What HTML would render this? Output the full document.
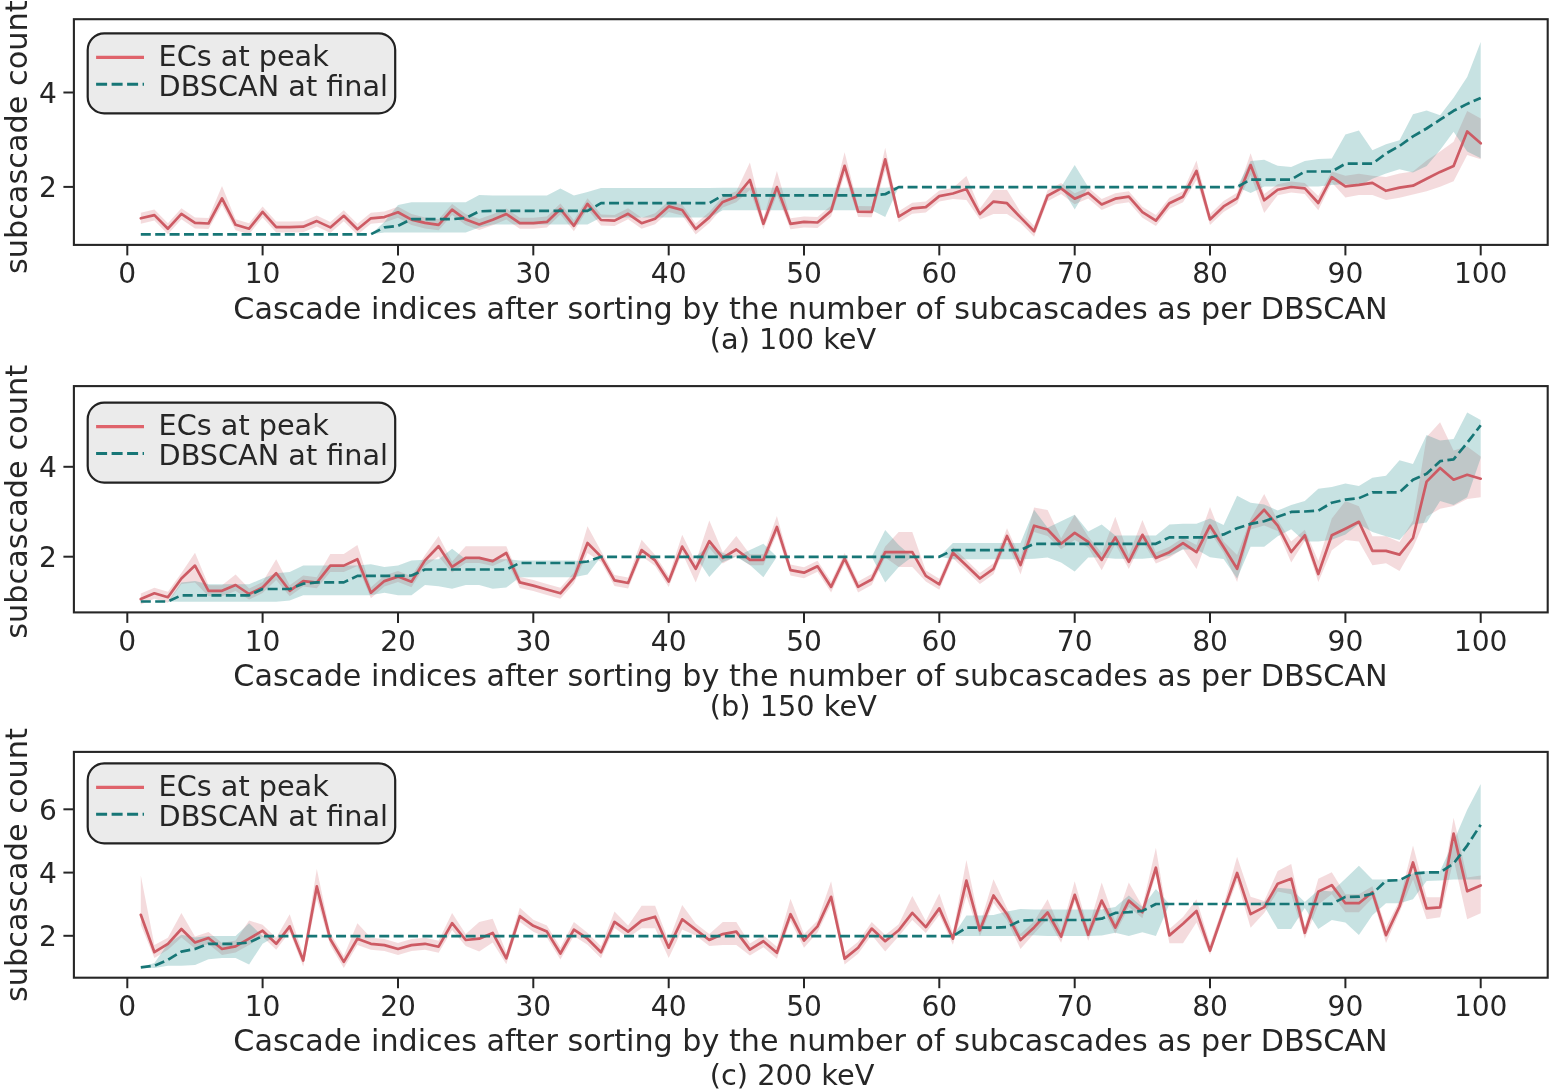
<!DOCTYPE html><html><head><meta charset="utf-8"><style>html,body{margin:0;padding:0;background:#fff;}svg{display:block;}text{font-family:'DejaVu Sans', 'Liberation Sans', sans-serif;fill:#262626;}</style></head><body>
<svg width="1551" height="1091" viewBox="0 0 1551 1091">
<rect x="0" y="0" width="1551" height="1091" fill="#fff"/>
<clipPath id="clip0"><rect x="73.9" y="19.2" width="1473.8" height="225.70000000000002"/></clipPath>
<g clip-path="url(#clip0)">
<polygon points="140.8,212.8 154.4,209.6 167.9,223.2 181.4,208.3 195.0,217.4 208.5,218.0 222.0,186.0 235.6,219.3 249.1,223.2 262.6,206.4 276.2,221.6 289.7,221.6 303.2,221.2 316.8,215.6 330.3,221.9 343.8,210.3 357.4,223.8 370.9,212.8 384.4,211.6 398.0,206.8 411.5,214.1 425.0,217.4 438.6,219.3 452.1,204.1 465.7,214.1 479.2,219.0 492.7,214.3 506.3,208.5 519.8,217.7 533.3,217.7 546.9,216.4 560.4,203.5 573.9,220.3 587.5,198.3 601.0,214.5 614.5,215.1 628.1,208.3 641.6,217.7 655.1,213.2 668.7,200.9 682.2,204.5 695.7,223.5 709.3,211.9 722.8,196.4 736.3,191.2 749.9,162.6 763.4,218.3 776.9,171.0 790.5,218.3 804.0,216.4 817.5,217.0 831.1,205.4 844.6,152.3 858.1,206.1 871.7,206.3 885.2,147.7 898.7,211.2 912.3,202.8 925.8,201.6 939.3,190.6 952.9,188.0 966.4,176.0 979.9,208.6 993.5,190.0 1007.0,190.0 1020.5,211.9 1034.1,225.7 1047.6,190.2 1061.1,182.9 1074.7,193.2 1088.2,187.4 1101.7,199.0 1115.3,193.2 1128.8,191.2 1142.4,206.7 1155.9,215.1 1169.4,197.7 1183.0,191.2 1196.5,160.6 1210.0,213.9 1223.6,200.9 1237.1,192.8 1250.6,153.2 1264.2,194.0 1277.7,184.2 1291.2,181.5 1304.8,182.9 1318.3,196.0 1331.8,171.6 1345.4,175.8 1358.9,173.8 1372.4,175.8 1386.0,176.9 1399.5,173.6 1413.0,171.4 1426.6,160.4 1440.1,151.6 1453.6,141.7 1467.2,110.9 1480.7,118.6 1480.7,159.3 1467.2,154.9 1453.6,181.3 1440.1,186.8 1426.6,191.2 1413.0,194.5 1399.5,197.8 1386.0,200.0 1372.4,195.0 1358.9,195.0 1345.4,197.5 1331.8,182.6 1318.3,210.3 1304.8,193.9 1291.2,192.5 1277.7,195.2 1264.2,213.0 1250.6,175.0 1237.1,203.8 1223.6,211.9 1210.0,224.9 1196.5,180.0 1183.0,202.2 1169.4,208.7 1155.9,226.1 1142.4,217.7 1128.8,202.2 1115.3,204.2 1101.7,210.0 1088.2,198.4 1074.7,204.2 1061.1,193.9 1047.6,201.2 1034.1,236.7 1020.5,222.9 1007.0,214.0 993.5,214.0 979.9,219.6 966.4,200.0 952.9,199.0 939.3,201.6 925.8,212.6 912.3,213.8 898.7,222.2 885.2,170.0 871.7,217.3 858.1,217.1 844.6,175.0 831.1,216.4 817.5,228.0 804.0,227.4 790.5,229.3 776.9,195.0 763.4,229.3 749.9,190.0 736.3,202.2 722.8,207.4 709.3,222.9 695.7,234.5 682.2,215.5 668.7,211.9 655.1,224.2 641.6,228.7 628.1,219.3 614.5,226.1 601.0,225.5 587.5,209.3 573.9,231.3 560.4,214.5 546.9,227.4 533.3,228.7 519.8,228.7 506.3,219.5 492.7,225.3 479.2,230.0 465.7,225.1 452.1,215.1 438.6,230.3 425.0,228.4 411.5,225.1 398.0,217.8 384.4,222.6 370.9,223.8 357.4,234.8 343.8,221.3 330.3,232.9 316.8,226.6 303.2,232.2 289.7,232.6 276.2,232.6 262.6,217.4 249.1,234.2 235.6,230.3 222.0,205.0 208.5,229.0 195.0,228.4 181.4,219.3 167.9,234.2 154.4,220.6 140.8,223.8" fill="#cd5b64" fill-opacity="0.22" stroke="none"/>
<polygon points="140.8,234.3 154.4,234.3 167.9,234.3 181.4,234.3 195.0,234.3 208.5,234.3 222.0,234.3 235.6,234.3 249.1,234.3 262.6,234.3 276.2,234.3 289.7,234.3 303.2,234.3 316.8,234.3 330.3,234.3 343.8,234.3 357.4,234.3 370.9,234.3 384.4,222.0 398.0,205.0 411.5,202.2 425.0,202.2 438.6,202.2 452.1,202.2 465.7,202.2 479.2,195.1 492.7,195.4 506.3,195.4 519.8,195.4 533.3,195.4 546.9,195.4 560.4,188.4 573.9,195.4 587.5,192.0 601.0,188.0 614.5,188.0 628.1,188.0 641.6,188.0 655.1,188.0 668.7,188.0 682.2,188.0 695.7,188.0 709.3,188.0 722.8,187.7 736.3,187.7 749.9,187.7 763.4,187.7 776.9,187.7 790.5,187.7 804.0,187.7 817.5,187.7 831.1,187.7 844.6,187.7 858.1,187.7 871.7,187.7 885.2,187.7 898.7,187.1 912.3,187.1 925.8,187.1 939.3,187.1 952.9,187.1 966.4,187.1 979.9,187.1 993.5,187.1 1007.0,187.1 1020.5,187.1 1034.1,187.1 1047.6,187.1 1061.1,187.1 1074.7,165.1 1088.2,187.1 1101.7,187.1 1115.3,187.1 1128.8,187.1 1142.4,187.1 1155.9,187.1 1169.4,187.1 1183.0,187.1 1196.5,187.1 1210.0,187.1 1223.6,187.1 1237.1,187.1 1250.6,161.1 1264.2,159.8 1277.7,165.8 1291.2,167.1 1304.8,161.1 1318.3,159.1 1331.8,158.5 1345.4,134.4 1358.9,130.5 1372.4,150.2 1386.0,144.3 1399.5,140.3 1413.0,114.2 1426.6,110.4 1440.1,115.3 1453.6,97.7 1467.2,77.0 1480.7,42.0 1480.7,158.2 1467.2,151.6 1453.6,131.8 1440.1,150.0 1426.6,165.9 1413.0,172.5 1399.5,169.2 1386.0,173.6 1372.4,178.7 1358.9,186.0 1345.4,184.0 1331.8,185.0 1318.3,186.4 1304.8,186.4 1291.2,186.4 1277.7,186.4 1264.2,186.4 1250.6,193.0 1237.1,187.1 1223.6,187.1 1210.0,187.1 1196.5,187.1 1183.0,187.1 1169.4,187.1 1155.9,187.1 1142.4,187.1 1128.8,187.1 1115.3,187.1 1101.7,187.1 1088.2,187.1 1074.7,209.6 1061.1,187.1 1047.6,187.1 1034.1,187.1 1020.5,187.1 1007.0,187.1 993.5,187.1 979.9,187.1 966.4,187.1 952.9,187.1 939.3,187.1 925.8,187.1 912.3,187.1 898.7,187.1 885.2,217.0 871.7,210.3 858.1,210.3 844.6,210.3 831.1,210.3 817.5,210.3 804.0,210.3 790.5,210.3 776.9,210.3 763.4,210.3 749.9,210.3 736.3,210.3 722.8,210.3 709.3,217.4 695.7,217.4 682.2,217.4 668.7,217.4 655.1,217.4 641.6,217.4 628.1,217.4 614.5,217.4 601.0,217.4 587.5,224.5 573.9,224.5 560.4,224.5 546.9,224.5 533.3,224.5 519.8,224.5 506.3,224.5 492.7,224.5 479.2,227.4 465.7,232.5 452.1,232.5 438.6,232.5 425.0,232.5 411.5,232.5 398.0,232.5 384.4,232.5 370.9,234.3 357.4,234.3 343.8,234.3 330.3,234.3 316.8,234.3 303.2,234.3 289.7,234.3 276.2,234.3 262.6,234.3 249.1,234.3 235.6,234.3 222.0,234.3 208.5,234.3 195.0,234.3 181.4,234.3 167.9,234.3 154.4,234.3 140.8,234.3" fill="#1f8a8a" fill-opacity="0.25" stroke="none"/>
<polyline points="140.8,218.3 154.4,215.1 167.9,228.7 181.4,213.8 195.0,222.9 208.5,223.5 222.0,198.4 235.6,224.8 249.1,228.7 262.6,211.9 276.2,227.1 289.7,227.1 303.2,226.7 316.8,221.1 330.3,227.4 343.8,215.8 357.4,229.3 370.9,218.3 384.4,217.1 398.0,212.3 411.5,219.6 425.0,222.9 438.6,224.8 452.1,209.6 465.7,219.6 479.2,224.5 492.7,219.8 506.3,214.0 519.8,223.2 533.3,223.2 546.9,221.9 560.4,209.0 573.9,225.8 587.5,203.8 601.0,220.0 614.5,220.6 628.1,213.8 641.6,223.2 655.1,218.7 668.7,206.4 682.2,210.0 695.7,229.0 709.3,217.4 722.8,201.9 736.3,196.7 749.9,180.0 763.4,223.8 776.9,187.1 790.5,223.8 804.0,221.9 817.5,222.5 831.1,210.9 844.6,165.8 858.1,211.6 871.7,211.8 885.2,159.3 898.7,216.7 912.3,208.3 925.8,207.1 939.3,196.1 952.9,193.5 966.4,189.0 979.9,214.1 993.5,201.6 1007.0,203.2 1020.5,217.4 1034.1,231.2 1047.6,195.7 1061.1,188.4 1074.7,198.7 1088.2,192.9 1101.7,204.5 1115.3,198.7 1128.8,196.7 1142.4,212.2 1155.9,220.6 1169.4,203.2 1183.0,196.7 1196.5,170.9 1210.0,219.4 1223.6,206.4 1237.1,198.3 1250.6,165.1 1264.2,200.3 1277.7,189.7 1291.2,187.0 1304.8,188.4 1318.3,203.0 1331.8,177.1 1345.4,186.3 1358.9,184.8 1372.4,182.9 1386.0,190.8 1399.5,187.6 1413.0,185.7 1426.6,178.8 1440.1,171.9 1453.6,166.0 1467.2,131.5 1480.7,143.3" fill="none" stroke="#cd5b64" stroke-width="2.7" stroke-linejoin="round" stroke-linecap="round"/>
<polyline points="140.8,234.3 154.4,234.3 167.9,234.3 181.4,234.3 195.0,234.3 208.5,234.3 222.0,234.3 235.6,234.3 249.1,234.3 262.6,234.3 276.2,234.3 289.7,234.3 303.2,234.3 316.8,234.3 330.3,234.3 343.8,234.3 357.4,234.3 370.9,234.3 384.4,227.4 398.0,225.8 411.5,219.2 425.0,219.2 438.6,219.2 452.1,219.2 465.7,218.0 479.2,211.3 492.7,210.9 506.3,210.9 519.8,210.9 533.3,210.9 546.9,210.9 560.4,210.9 573.9,210.9 587.5,210.9 601.0,203.2 614.5,203.2 628.1,203.2 641.6,203.2 655.1,203.2 668.7,203.2 682.2,203.2 695.7,203.2 709.3,203.2 722.8,195.4 736.3,195.4 749.9,195.4 763.4,195.4 776.9,195.4 790.5,195.4 804.0,195.4 817.5,195.4 831.1,195.4 844.6,195.4 858.1,195.4 871.7,195.4 885.2,194.2 898.7,187.1 912.3,187.1 925.8,187.1 939.3,187.1 952.9,187.1 966.4,187.1 979.9,187.1 993.5,187.1 1007.0,187.1 1020.5,187.1 1034.1,187.1 1047.6,187.1 1061.1,187.1 1074.7,187.1 1088.2,187.1 1101.7,187.1 1115.3,187.1 1128.8,187.1 1142.4,187.1 1155.9,187.1 1169.4,187.1 1183.0,187.1 1196.5,187.1 1210.0,187.1 1223.6,187.1 1237.1,187.1 1250.6,179.6 1264.2,179.6 1277.7,179.6 1291.2,179.6 1304.8,171.5 1318.3,171.5 1331.8,171.5 1345.4,163.7 1358.9,163.7 1372.4,163.7 1386.0,153.5 1399.5,146.0 1413.0,136.4 1426.6,128.5 1440.1,119.7 1453.6,110.8 1467.2,103.9 1480.7,98.0" fill="none" stroke="#177676" stroke-width="2.7" stroke-dasharray="10,4.4" stroke-linejoin="round"/>
</g>
<rect x="73.9" y="19.2" width="1473.8" height="225.7" fill="none" stroke="#262626" stroke-width="2.1"/>
<line x1="127.3" y1="244.9" x2="127.3" y2="255.4" stroke="#262626" stroke-width="2"/>
<text x="127.3" y="283.2" font-size="28.1" text-anchor="middle">0</text>
<line x1="262.6" y1="244.9" x2="262.6" y2="255.4" stroke="#262626" stroke-width="2"/>
<text x="262.6" y="283.2" font-size="28.1" text-anchor="middle">10</text>
<line x1="398.0" y1="244.9" x2="398.0" y2="255.4" stroke="#262626" stroke-width="2"/>
<text x="398.0" y="283.2" font-size="28.1" text-anchor="middle">20</text>
<line x1="533.3" y1="244.9" x2="533.3" y2="255.4" stroke="#262626" stroke-width="2"/>
<text x="533.3" y="283.2" font-size="28.1" text-anchor="middle">30</text>
<line x1="668.7" y1="244.9" x2="668.7" y2="255.4" stroke="#262626" stroke-width="2"/>
<text x="668.7" y="283.2" font-size="28.1" text-anchor="middle">40</text>
<line x1="804.0" y1="244.9" x2="804.0" y2="255.4" stroke="#262626" stroke-width="2"/>
<text x="804.0" y="283.2" font-size="28.1" text-anchor="middle">50</text>
<line x1="939.3" y1="244.9" x2="939.3" y2="255.4" stroke="#262626" stroke-width="2"/>
<text x="939.3" y="283.2" font-size="28.1" text-anchor="middle">60</text>
<line x1="1074.7" y1="244.9" x2="1074.7" y2="255.4" stroke="#262626" stroke-width="2"/>
<text x="1074.7" y="283.2" font-size="28.1" text-anchor="middle">70</text>
<line x1="1210.0" y1="244.9" x2="1210.0" y2="255.4" stroke="#262626" stroke-width="2"/>
<text x="1210.0" y="283.2" font-size="28.1" text-anchor="middle">80</text>
<line x1="1345.4" y1="244.9" x2="1345.4" y2="255.4" stroke="#262626" stroke-width="2"/>
<text x="1345.4" y="283.2" font-size="28.1" text-anchor="middle">90</text>
<line x1="1480.7" y1="244.9" x2="1480.7" y2="255.4" stroke="#262626" stroke-width="2"/>
<text x="1480.7" y="283.2" font-size="28.1" text-anchor="middle">100</text>
<line x1="63.4" y1="186.9" x2="73.9" y2="186.9" stroke="#262626" stroke-width="2"/>
<text x="56.9" y="197.3" font-size="28.1" text-anchor="end">2</text>
<line x1="63.4" y1="92.5" x2="73.9" y2="92.5" stroke="#262626" stroke-width="2"/>
<text x="56.9" y="102.9" font-size="28.1" text-anchor="end">4</text>
<text x="810.5" y="318.6" font-size="30.2" text-anchor="middle">Cascade indices after sorting by the number of subcascades as per DBSCAN</text>
<text x="709.8" y="349.1" font-size="28.8">(a) 100 keV</text>
<text transform="translate(26.6 137.2) rotate(-90)" font-size="30.35" text-anchor="middle">subcascade count</text>
<rect x="87.7" y="33.4" width="307.5" height="80" rx="16.5" ry="16.5" fill="#ebebeb" stroke="#222" stroke-width="2.2"/>
<line x1="96.1" y1="57.4" x2="144" y2="57.4" stroke="#df636b" stroke-width="3.2"/>
<line x1="96.1" y1="84.2" x2="144" y2="84.2" stroke="#177676" stroke-width="3" stroke-dasharray="11,4.5"/>
<text x="158.6" y="65.9" font-size="28.7">ECs at peak</text>
<text x="158.6" y="96.0" font-size="28.7">DBSCAN at final</text>
<clipPath id="clip1"><rect x="73.9" y="386.1" width="1473.8" height="226.29999999999995"/></clipPath>
<g clip-path="url(#clip1)">
<polygon points="140.8,593.6 154.4,587.8 167.9,591.7 181.4,573.0 195.0,552.7 208.5,585.3 222.0,585.3 235.6,574.6 249.1,588.5 262.6,582.0 276.2,559.2 289.7,585.3 303.2,575.6 316.8,577.2 330.3,554.0 343.8,554.0 357.4,545.0 370.9,587.2 384.4,575.6 398.0,571.1 411.5,576.2 425.0,554.9 438.6,536.0 452.1,561.4 465.7,546.3 479.2,546.3 492.7,546.3 506.3,546.3 519.8,576.9 533.3,580.1 546.9,584.0 560.4,587.8 573.9,572.4 587.5,526.3 601.0,551.1 614.5,574.9 628.1,577.5 641.6,539.8 655.1,554.9 668.7,576.0 682.2,534.7 695.7,562.0 709.3,520.5 722.8,552.4 736.3,536.0 749.9,554.3 763.4,554.3 776.9,516.0 790.5,564.6 804.0,567.2 817.5,560.8 831.1,581.4 844.6,553.0 858.1,581.4 871.7,574.0 885.2,546.6 898.7,532.0 912.3,532.0 925.8,570.4 939.3,578.8 952.9,547.2 966.4,560.1 979.9,573.0 993.5,563.3 1007.0,528.2 1020.5,558.0 1034.1,507.6 1047.6,510.0 1061.1,538.3 1074.7,514.8 1088.2,536.4 1101.7,553.0 1115.3,516.8 1128.8,555.0 1142.4,520.0 1155.9,552.5 1169.4,546.7 1183.0,537.7 1196.5,545.0 1210.0,507.1 1223.6,541.5 1237.1,555.0 1250.6,518.4 1264.2,494.0 1277.7,520.1 1291.2,541.5 1304.8,529.8 1318.3,561.0 1331.8,518.6 1345.4,501.0 1358.9,506.3 1372.4,536.2 1386.0,536.2 1399.5,541.9 1413.0,520.5 1426.6,437.0 1440.1,422.3 1453.6,450.5 1467.2,446.6 1480.7,456.4 1480.7,497.2 1467.2,499.1 1453.6,506.0 1440.1,508.8 1426.6,516.6 1413.0,547.7 1399.5,571.0 1386.0,563.2 1372.4,565.2 1358.9,541.5 1345.4,540.0 1331.8,550.3 1318.3,582.0 1304.8,540.8 1291.2,562.6 1277.7,531.1 1264.2,525.6 1250.6,529.4 1237.1,582.0 1223.6,552.5 1210.0,532.0 1196.5,569.0 1183.0,548.7 1169.4,557.7 1155.9,563.5 1142.4,541.0 1128.8,569.0 1115.3,544.0 1101.7,570.3 1088.2,547.4 1074.7,540.0 1061.1,549.3 1047.6,536.0 1034.1,532.0 1020.5,574.6 1007.0,542.0 993.5,574.3 979.9,584.0 966.4,571.1 952.9,558.2 939.3,589.8 925.8,581.4 912.3,567.0 898.7,567.0 885.2,557.6 871.7,585.0 858.1,592.4 844.6,564.0 831.1,592.4 817.5,571.8 804.0,578.2 790.5,575.6 776.9,534.0 763.4,565.3 749.9,565.3 736.3,556.0 722.8,563.4 709.3,548.0 695.7,582.4 682.2,553.0 668.7,587.0 655.1,565.9 641.6,556.0 628.1,588.5 614.5,585.9 601.0,562.1 587.5,553.0 573.9,583.4 560.4,598.8 546.9,595.0 533.3,591.1 519.8,587.9 506.3,560.0 492.7,566.0 479.2,563.0 465.7,563.0 452.1,572.4 438.6,556.6 425.0,565.9 411.5,587.2 398.0,582.1 384.4,586.6 370.9,598.2 357.4,566.0 343.8,572.0 330.3,572.0 316.8,588.2 303.2,586.6 289.7,596.3 276.2,580.0 262.6,593.0 249.1,599.5 235.6,591.0 222.0,596.3 208.5,596.3 195.0,582.4 181.4,584.0 167.9,602.7 154.4,598.8 140.8,604.6" fill="#cd5b64" fill-opacity="0.22" stroke="none"/>
<polygon points="140.8,601.5 154.4,601.5 167.9,601.5 181.4,582.4 195.0,581.0 208.5,584.3 222.0,584.3 235.6,584.3 249.1,584.3 262.6,578.5 276.2,573.3 289.7,572.0 303.2,565.6 316.8,565.6 330.3,565.6 343.8,565.6 357.4,565.6 370.9,564.3 384.4,566.9 398.0,565.6 411.5,560.4 425.0,559.8 438.6,559.2 452.1,548.8 465.7,559.2 479.2,559.2 492.7,559.2 506.3,559.2 519.8,560.4 533.3,560.4 546.9,560.4 560.4,560.4 573.9,560.4 587.5,561.7 601.0,556.8 614.5,556.8 628.1,556.8 641.6,556.8 655.1,556.8 668.7,556.8 682.2,556.8 695.7,556.8 709.3,545.0 722.8,553.0 736.3,556.8 749.9,550.0 763.4,543.7 776.9,556.8 790.5,556.8 804.0,556.8 817.5,556.8 831.1,556.8 844.6,556.8 858.1,556.8 871.7,556.8 885.2,530.0 898.7,545.0 912.3,556.8 925.8,556.8 939.3,556.8 952.9,543.0 966.4,543.0 979.9,543.0 993.5,543.0 1007.0,543.0 1020.5,543.0 1034.1,509.7 1047.6,527.7 1061.1,521.3 1074.7,514.8 1088.2,531.6 1101.7,524.5 1115.3,535.4 1128.8,535.4 1142.4,535.4 1155.9,535.4 1169.4,524.5 1183.0,523.8 1196.5,523.8 1210.0,518.6 1223.6,525.0 1237.1,495.7 1250.6,502.7 1264.2,504.5 1277.7,510.6 1291.2,505.0 1304.8,501.0 1318.3,488.7 1331.8,486.9 1345.4,483.5 1358.9,486.0 1372.4,477.8 1386.0,475.8 1399.5,460.2 1413.0,464.0 1426.6,435.0 1440.1,440.5 1453.6,438.9 1467.2,412.6 1480.7,420.0 1480.7,458.0 1467.2,497.2 1453.6,505.0 1440.1,501.0 1426.6,522.4 1413.0,524.4 1399.5,539.9 1386.0,536.2 1372.4,532.1 1358.9,523.9 1345.4,534.4 1331.8,539.7 1318.3,541.5 1304.8,541.5 1291.2,529.2 1277.7,536.2 1264.2,546.8 1250.6,546.8 1237.1,578.5 1223.6,559.1 1210.0,557.3 1196.5,549.6 1183.0,549.6 1169.4,556.1 1155.9,557.4 1142.4,558.7 1128.8,558.7 1115.3,558.7 1101.7,557.4 1088.2,557.4 1074.7,571.6 1061.1,562.5 1047.6,557.4 1034.1,558.7 1020.5,559.2 1007.0,559.2 993.5,559.2 979.9,559.2 966.4,559.2 952.9,559.2 939.3,556.8 925.8,556.8 912.3,556.8 898.7,567.0 885.2,582.4 871.7,556.8 858.1,556.8 844.6,556.8 831.1,556.8 817.5,556.8 804.0,556.8 790.5,556.8 776.9,556.8 763.4,577.2 749.9,565.0 736.3,556.8 722.8,562.0 709.3,577.0 695.7,556.8 682.2,556.8 668.7,556.8 655.1,556.8 641.6,556.8 628.1,556.8 614.5,556.8 601.0,556.8 587.5,574.6 573.9,577.2 560.4,577.2 546.9,577.2 533.3,577.2 519.8,577.2 506.3,587.5 492.7,588.8 479.2,585.0 465.7,585.0 452.1,588.8 438.6,586.3 425.0,585.0 411.5,595.3 398.0,595.3 384.4,592.7 370.9,595.3 357.4,595.3 343.8,595.3 330.3,595.3 316.8,595.3 303.2,595.3 289.7,600.4 276.2,601.7 262.6,601.7 249.1,601.7 235.6,601.7 222.0,601.7 208.5,601.7 195.0,601.7 181.4,601.7 167.9,601.5 154.4,601.5 140.8,601.5" fill="#1f8a8a" fill-opacity="0.25" stroke="none"/>
<polyline points="140.8,599.1 154.4,593.3 167.9,597.2 181.4,578.5 195.0,565.6 208.5,590.8 222.0,590.8 235.6,585.0 249.1,594.0 262.6,587.5 276.2,573.3 289.7,590.8 303.2,581.1 316.8,582.7 330.3,565.6 343.8,565.6 357.4,559.2 370.9,592.7 384.4,581.1 398.0,576.6 411.5,581.7 425.0,560.4 438.6,546.3 452.1,566.9 465.7,557.9 479.2,557.9 492.7,561.1 506.3,553.0 519.8,582.4 533.3,585.6 546.9,589.5 560.4,593.3 573.9,577.9 587.5,543.0 601.0,556.6 614.5,580.4 628.1,583.0 641.6,550.1 655.1,560.4 668.7,581.5 682.2,546.6 695.7,568.8 709.3,541.1 722.8,557.9 736.3,549.5 749.9,559.8 763.4,559.8 776.9,526.9 790.5,570.1 804.0,572.7 817.5,566.3 831.1,586.9 844.6,558.5 858.1,586.9 871.7,579.5 885.2,552.1 898.7,552.1 912.3,552.1 925.8,575.9 939.3,584.3 952.9,552.7 966.4,565.6 979.9,578.5 993.5,568.8 1007.0,536.0 1020.5,565.0 1034.1,525.7 1047.6,529.5 1061.1,543.8 1074.7,532.9 1088.2,541.9 1101.7,559.9 1115.3,537.4 1128.8,561.9 1142.4,534.8 1155.9,558.0 1169.4,552.2 1183.0,543.2 1196.5,552.2 1210.0,525.7 1223.6,547.0 1237.1,568.8 1250.6,523.9 1264.2,509.8 1277.7,525.6 1291.2,552.0 1304.8,535.3 1318.3,574.0 1331.8,535.3 1345.4,528.7 1358.9,521.8 1372.4,550.9 1386.0,550.9 1399.5,554.6 1413.0,538.0 1426.6,481.6 1440.1,468.0 1453.6,479.7 1467.2,474.8 1480.7,478.7" fill="none" stroke="#cd5b64" stroke-width="2.7" stroke-linejoin="round" stroke-linecap="round"/>
<polyline points="140.8,601.5 154.4,601.5 167.9,601.5 181.4,595.3 195.0,595.3 208.5,595.3 222.0,595.3 235.6,595.3 249.1,595.3 262.6,589.0 276.2,589.0 289.7,589.0 303.2,583.7 316.8,582.4 330.3,582.4 343.8,582.4 357.4,575.9 370.9,575.9 384.4,575.9 398.0,575.9 411.5,575.5 425.0,569.5 438.6,569.5 452.1,569.5 465.7,569.5 479.2,569.5 492.7,569.5 506.3,569.5 519.8,563.0 533.3,563.0 546.9,563.0 560.4,563.0 573.9,563.0 587.5,561.5 601.0,556.8 614.5,556.8 628.1,556.8 641.6,556.8 655.1,556.8 668.7,556.8 682.2,556.8 695.7,556.8 709.3,556.8 722.8,556.8 736.3,556.8 749.9,556.8 763.4,556.8 776.9,556.8 790.5,556.8 804.0,556.8 817.5,556.8 831.1,556.8 844.6,556.8 858.1,556.8 871.7,556.8 885.2,556.8 898.7,556.8 912.3,556.8 925.8,556.8 939.3,556.8 952.9,550.1 966.4,550.1 979.9,550.1 993.5,550.1 1007.0,550.1 1020.5,550.1 1034.1,543.8 1047.6,543.8 1061.1,543.8 1074.7,543.8 1088.2,543.8 1101.7,543.8 1115.3,543.8 1128.8,543.8 1142.4,543.8 1155.9,543.8 1169.4,537.4 1183.0,537.4 1196.5,537.4 1210.0,537.4 1223.6,534.4 1237.1,528.3 1250.6,523.9 1264.2,521.2 1277.7,516.8 1291.2,511.9 1304.8,511.5 1318.3,510.7 1331.8,502.7 1345.4,499.6 1358.9,498.2 1372.4,492.3 1386.0,492.3 1399.5,492.3 1413.0,479.7 1426.6,473.8 1440.1,461.2 1453.6,459.3 1467.2,442.8 1480.7,425.3" fill="none" stroke="#177676" stroke-width="2.7" stroke-dasharray="10,4.4" stroke-linejoin="round"/>
</g>
<rect x="73.9" y="386.1" width="1473.8" height="226.3" fill="none" stroke="#262626" stroke-width="2.1"/>
<line x1="127.3" y1="612.4" x2="127.3" y2="622.9" stroke="#262626" stroke-width="2"/>
<text x="127.3" y="650.7" font-size="28.1" text-anchor="middle">0</text>
<line x1="262.6" y1="612.4" x2="262.6" y2="622.9" stroke="#262626" stroke-width="2"/>
<text x="262.6" y="650.7" font-size="28.1" text-anchor="middle">10</text>
<line x1="398.0" y1="612.4" x2="398.0" y2="622.9" stroke="#262626" stroke-width="2"/>
<text x="398.0" y="650.7" font-size="28.1" text-anchor="middle">20</text>
<line x1="533.3" y1="612.4" x2="533.3" y2="622.9" stroke="#262626" stroke-width="2"/>
<text x="533.3" y="650.7" font-size="28.1" text-anchor="middle">30</text>
<line x1="668.7" y1="612.4" x2="668.7" y2="622.9" stroke="#262626" stroke-width="2"/>
<text x="668.7" y="650.7" font-size="28.1" text-anchor="middle">40</text>
<line x1="804.0" y1="612.4" x2="804.0" y2="622.9" stroke="#262626" stroke-width="2"/>
<text x="804.0" y="650.7" font-size="28.1" text-anchor="middle">50</text>
<line x1="939.3" y1="612.4" x2="939.3" y2="622.9" stroke="#262626" stroke-width="2"/>
<text x="939.3" y="650.7" font-size="28.1" text-anchor="middle">60</text>
<line x1="1074.7" y1="612.4" x2="1074.7" y2="622.9" stroke="#262626" stroke-width="2"/>
<text x="1074.7" y="650.7" font-size="28.1" text-anchor="middle">70</text>
<line x1="1210.0" y1="612.4" x2="1210.0" y2="622.9" stroke="#262626" stroke-width="2"/>
<text x="1210.0" y="650.7" font-size="28.1" text-anchor="middle">80</text>
<line x1="1345.4" y1="612.4" x2="1345.4" y2="622.9" stroke="#262626" stroke-width="2"/>
<text x="1345.4" y="650.7" font-size="28.1" text-anchor="middle">90</text>
<line x1="1480.7" y1="612.4" x2="1480.7" y2="622.9" stroke="#262626" stroke-width="2"/>
<text x="1480.7" y="650.7" font-size="28.1" text-anchor="middle">100</text>
<line x1="63.4" y1="556.7" x2="73.9" y2="556.7" stroke="#262626" stroke-width="2"/>
<text x="56.9" y="567.1" font-size="28.1" text-anchor="end">2</text>
<line x1="63.4" y1="466.8" x2="73.9" y2="466.8" stroke="#262626" stroke-width="2"/>
<text x="56.9" y="477.2" font-size="28.1" text-anchor="end">4</text>
<text x="810.5" y="686.1" font-size="30.2" text-anchor="middle">Cascade indices after sorting by the number of subcascades as per DBSCAN</text>
<text x="709.8" y="716.0" font-size="28.8">(b) 150 keV</text>
<text transform="translate(26.6 501.9) rotate(-90)" font-size="30.35" text-anchor="middle">subcascade count</text>
<rect x="87.7" y="402.6" width="307.5" height="80" rx="16.5" ry="16.5" fill="#ebebeb" stroke="#222" stroke-width="2.2"/>
<line x1="96.1" y1="426.6" x2="144" y2="426.6" stroke="#df636b" stroke-width="3.2"/>
<line x1="96.1" y1="453.4" x2="144" y2="453.4" stroke="#177676" stroke-width="3" stroke-dasharray="11,4.5"/>
<text x="158.6" y="435.1" font-size="28.7">ECs at peak</text>
<text x="158.6" y="465.2" font-size="28.7">DBSCAN at final</text>
<clipPath id="clip2"><rect x="73.9" y="751.9" width="1473.8" height="225.80000000000007"/></clipPath>
<g clip-path="url(#clip2)">
<polygon points="140.8,875.5 154.4,945.0 167.9,937.8 181.4,912.9 195.0,936.5 208.5,932.0 222.0,943.0 235.6,940.4 249.1,920.6 262.6,924.7 276.2,937.8 289.7,914.2 303.2,954.6 316.8,869.0 330.3,933.3 343.8,955.9 357.4,923.2 370.9,937.8 384.4,939.1 398.0,943.0 411.5,939.1 425.0,937.8 438.6,940.7 452.1,912.9 465.7,934.0 479.2,922.0 492.7,918.7 506.3,952.3 519.8,907.7 533.3,919.8 546.9,925.6 560.4,947.5 573.9,921.9 587.5,932.7 601.0,946.2 614.5,911.6 628.1,925.6 641.6,905.8 655.1,905.8 668.7,941.0 682.2,905.1 695.7,923.6 709.3,934.0 722.8,921.9 736.3,921.9 749.9,943.6 763.4,935.2 776.9,946.8 790.5,898.7 804.0,934.0 817.5,920.4 831.1,881.3 844.6,952.6 858.1,941.7 871.7,921.9 885.2,935.0 898.7,924.3 912.3,896.1 925.8,921.1 939.3,893.5 952.9,932.7 966.4,860.0 979.9,924.3 993.5,879.3 1007.0,908.2 1020.5,934.0 1034.1,921.4 1047.6,899.3 1061.1,930.7 1074.7,881.3 1088.2,928.8 1101.7,882.6 1115.3,921.7 1128.8,882.6 1142.4,906.2 1155.9,847.7 1169.4,929.0 1183.0,917.0 1196.5,899.3 1210.0,944.0 1223.6,905.0 1237.1,856.8 1250.6,896.7 1264.2,901.1 1277.7,871.0 1291.2,863.9 1304.8,926.8 1318.3,878.7 1331.8,872.2 1345.4,894.2 1358.9,894.2 1372.4,886.3 1386.0,927.2 1399.5,900.5 1413.0,845.6 1426.6,897.3 1440.1,897.3 1453.6,817.7 1467.2,877.4 1480.7,875.4 1480.7,913.2 1467.2,919.2 1453.6,859.5 1440.1,917.2 1426.6,919.2 1413.0,879.4 1399.5,912.5 1386.0,943.1 1372.4,898.3 1358.9,912.2 1345.4,912.2 1331.8,894.2 1318.3,904.5 1304.8,938.8 1291.2,894.2 1277.7,891.6 1264.2,913.1 1250.6,927.7 1237.1,881.0 1223.6,917.0 1210.0,954.8 1196.5,922.5 1183.0,943.2 1169.4,943.2 1155.9,875.0 1142.4,918.2 1128.8,907.0 1115.3,933.7 1101.7,907.0 1088.2,940.8 1074.7,902.0 1061.1,942.7 1047.6,919.0 1034.1,933.4 1020.5,949.0 1007.0,920.2 993.5,903.0 979.9,936.3 966.4,896.0 952.9,944.7 939.3,915.0 925.8,933.1 912.3,920.0 898.7,936.3 885.2,951.6 871.7,935.0 858.1,953.7 844.6,964.6 831.1,904.0 817.5,932.4 804.0,947.7 790.5,921.0 776.9,958.8 763.4,947.2 749.9,955.6 736.3,945.0 722.8,945.0 709.3,946.0 695.7,935.6 682.2,929.6 668.7,958.0 655.1,928.3 641.6,928.3 628.1,937.6 614.5,928.0 601.0,958.2 587.5,944.7 573.9,936.0 560.4,959.5 546.9,937.6 533.3,931.8 519.8,922.0 506.3,964.3 492.7,942.5 479.2,951.6 465.7,946.0 452.1,930.0 438.6,952.7 425.0,949.8 411.5,951.1 398.0,955.0 384.4,951.1 370.9,949.8 357.4,945.0 343.8,967.9 330.3,945.3 316.8,898.7 303.2,966.6 289.7,932.0 276.2,949.8 262.6,936.7 249.1,945.0 235.6,952.4 222.0,955.0 208.5,944.0 195.0,948.5 181.4,937.4 167.9,949.8 154.4,958.0 140.8,925.0" fill="#cd5b64" fill-opacity="0.22" stroke="none"/>
<polygon points="140.8,967.3 154.4,963.0 167.9,943.8 181.4,934.8 195.0,937.4 208.5,936.1 222.0,936.1 235.6,936.1 249.1,923.2 262.6,936.1 276.2,936.1 289.7,936.1 303.2,936.1 316.8,936.1 330.3,936.1 343.8,936.1 357.4,936.1 370.9,936.1 384.4,936.1 398.0,936.1 411.5,936.1 425.0,936.1 438.6,936.1 452.1,936.1 465.7,936.1 479.2,936.1 492.7,936.1 506.3,936.1 519.8,936.1 533.3,936.1 546.9,936.1 560.4,936.1 573.9,936.1 587.5,936.1 601.0,936.1 614.5,936.1 628.1,936.1 641.6,936.1 655.1,936.1 668.7,936.1 682.2,936.1 695.7,936.1 709.3,936.1 722.8,936.1 736.3,936.1 749.9,936.1 763.4,936.1 776.9,936.1 790.5,936.1 804.0,936.1 817.5,936.1 831.1,936.1 844.6,936.1 858.1,936.1 871.7,936.1 885.2,936.1 898.7,936.1 912.3,936.1 925.8,936.1 939.3,936.1 952.9,936.1 966.4,915.4 979.9,915.4 993.5,915.0 1007.0,911.6 1020.5,909.0 1034.1,909.6 1047.6,909.6 1061.1,909.6 1074.7,909.6 1088.2,909.6 1101.7,909.6 1115.3,907.0 1128.8,895.4 1142.4,907.0 1155.9,889.0 1169.4,904.0 1183.0,904.0 1196.5,904.0 1210.0,904.0 1223.6,904.0 1237.1,904.0 1250.6,904.0 1264.2,902.0 1277.7,887.7 1291.2,889.0 1304.8,902.0 1318.3,890.3 1331.8,891.6 1345.4,878.7 1358.9,865.8 1372.4,879.4 1386.0,879.4 1399.5,879.4 1413.0,873.4 1426.6,871.0 1440.1,871.0 1453.6,841.6 1467.2,809.8 1480.7,783.9 1480.7,879.4 1467.2,879.4 1453.6,879.4 1440.1,880.4 1426.6,881.0 1413.0,899.3 1399.5,903.3 1386.0,903.3 1372.4,915.2 1358.9,935.1 1345.4,922.5 1331.8,920.0 1318.3,929.0 1304.8,908.0 1291.2,929.0 1277.7,929.0 1264.2,906.0 1250.6,904.0 1237.1,904.0 1223.6,904.0 1210.0,904.0 1196.5,904.0 1183.0,904.0 1169.4,904.0 1155.9,936.0 1142.4,932.2 1128.8,936.0 1115.3,932.8 1101.7,935.4 1088.2,936.0 1074.7,936.0 1061.1,936.0 1047.6,936.0 1034.1,935.4 1020.5,936.1 1007.0,936.1 993.5,936.1 979.9,936.1 966.4,936.1 952.9,936.1 939.3,936.1 925.8,936.1 912.3,936.1 898.7,936.1 885.2,936.1 871.7,936.1 858.1,936.1 844.6,936.1 831.1,936.1 817.5,936.1 804.0,936.1 790.5,936.1 776.9,936.1 763.4,936.1 749.9,936.1 736.3,936.1 722.8,936.1 709.3,936.1 695.7,936.1 682.2,936.1 668.7,936.1 655.1,936.1 641.6,936.1 628.1,936.1 614.5,936.1 601.0,936.1 587.5,936.1 573.9,936.1 560.4,936.1 546.9,936.1 533.3,936.1 519.8,936.1 506.3,936.1 492.7,936.1 479.2,936.1 465.7,936.1 452.1,936.1 438.6,936.1 425.0,936.1 411.5,936.1 398.0,936.1 384.4,936.1 370.9,936.1 357.4,936.1 343.8,936.1 330.3,936.1 316.8,936.1 303.2,936.1 289.7,936.1 276.2,936.1 262.6,943.8 249.1,964.4 235.6,958.0 222.0,958.0 208.5,959.3 195.0,965.1 181.4,965.7 167.9,965.7 154.4,968.0 140.8,967.3" fill="#1f8a8a" fill-opacity="0.25" stroke="none"/>
<polyline points="140.8,914.8 154.4,952.2 167.9,943.8 181.4,929.0 195.0,942.5 208.5,938.0 222.0,949.0 235.6,946.4 249.1,938.7 262.6,930.7 276.2,943.8 289.7,926.4 303.2,960.6 316.8,886.4 330.3,939.3 343.8,961.9 357.4,938.7 370.9,943.8 384.4,945.1 398.0,949.0 411.5,945.1 425.0,943.8 438.6,946.7 452.1,923.2 465.7,940.0 479.2,938.7 492.7,932.9 506.3,958.3 519.8,916.1 533.3,925.8 546.9,931.6 560.4,953.5 573.9,929.6 587.5,938.7 601.0,952.2 614.5,921.9 628.1,931.6 641.6,920.6 655.1,916.7 668.7,947.7 682.2,919.3 695.7,929.6 709.3,940.0 722.8,934.1 736.3,931.6 749.9,949.6 763.4,941.2 776.9,952.8 790.5,914.2 804.0,940.6 817.5,926.4 831.1,896.8 844.6,958.6 858.1,947.7 871.7,928.6 885.2,941.2 898.7,930.3 912.3,912.9 925.8,927.1 939.3,908.4 952.9,938.7 966.4,880.6 979.9,930.3 993.5,895.5 1007.0,914.2 1020.5,940.0 1034.1,927.4 1047.6,912.5 1061.1,936.7 1074.7,894.8 1088.2,934.8 1101.7,900.6 1115.3,927.7 1128.8,900.6 1142.4,912.2 1155.9,867.7 1169.4,935.4 1183.0,923.8 1196.5,910.9 1210.0,950.6 1223.6,911.0 1237.1,872.9 1250.6,914.1 1264.2,907.1 1277.7,883.8 1291.2,878.7 1304.8,932.8 1318.3,891.6 1331.8,885.1 1345.4,903.2 1358.9,903.2 1372.4,892.3 1386.0,935.2 1399.5,906.5 1413.0,862.5 1426.6,908.3 1440.1,907.3 1453.6,833.6 1467.2,891.3 1480.7,885.4" fill="none" stroke="#cd5b64" stroke-width="2.7" stroke-linejoin="round" stroke-linecap="round"/>
<polyline points="140.8,967.3 154.4,965.7 167.9,959.9 181.4,951.6 195.0,949.0 208.5,943.8 222.0,943.8 235.6,943.8 249.1,942.5 262.6,936.1 276.2,936.1 289.7,936.1 303.2,936.1 316.8,936.1 330.3,936.1 343.8,936.1 357.4,936.1 370.9,936.1 384.4,936.1 398.0,936.1 411.5,936.1 425.0,936.1 438.6,936.1 452.1,936.1 465.7,936.1 479.2,936.1 492.7,936.1 506.3,936.1 519.8,936.1 533.3,936.1 546.9,936.1 560.4,936.1 573.9,936.1 587.5,936.1 601.0,936.1 614.5,936.1 628.1,936.1 641.6,936.1 655.1,936.1 668.7,936.1 682.2,936.1 695.7,936.1 709.3,936.1 722.8,936.1 736.3,936.1 749.9,936.1 763.4,936.1 776.9,936.1 790.5,936.1 804.0,936.1 817.5,936.1 831.1,936.1 844.6,936.1 858.1,936.1 871.7,936.1 885.2,936.1 898.7,936.1 912.3,936.1 925.8,936.1 939.3,936.1 952.9,936.1 966.4,927.7 979.9,927.7 993.5,927.7 1007.0,927.1 1020.5,920.6 1034.1,920.0 1047.6,920.0 1061.1,920.0 1074.7,920.0 1088.2,920.0 1101.7,918.7 1115.3,912.9 1128.8,912.2 1142.4,910.9 1155.9,904.0 1169.4,904.0 1183.0,904.0 1196.5,904.0 1210.0,904.0 1223.6,904.0 1237.1,904.0 1250.6,904.0 1264.2,904.0 1277.7,904.0 1291.2,904.0 1304.8,904.0 1318.3,904.0 1331.8,903.8 1345.4,896.9 1358.9,896.7 1372.4,893.8 1386.0,880.6 1399.5,880.2 1413.0,873.4 1426.6,872.4 1440.1,872.4 1453.6,863.5 1467.2,845.6 1480.7,824.7" fill="none" stroke="#177676" stroke-width="2.7" stroke-dasharray="10,4.4" stroke-linejoin="round"/>
</g>
<rect x="73.9" y="751.9" width="1473.8" height="225.8" fill="none" stroke="#262626" stroke-width="2.1"/>
<line x1="127.3" y1="977.7" x2="127.3" y2="988.2" stroke="#262626" stroke-width="2"/>
<text x="127.3" y="1016.0" font-size="28.1" text-anchor="middle">0</text>
<line x1="262.6" y1="977.7" x2="262.6" y2="988.2" stroke="#262626" stroke-width="2"/>
<text x="262.6" y="1016.0" font-size="28.1" text-anchor="middle">10</text>
<line x1="398.0" y1="977.7" x2="398.0" y2="988.2" stroke="#262626" stroke-width="2"/>
<text x="398.0" y="1016.0" font-size="28.1" text-anchor="middle">20</text>
<line x1="533.3" y1="977.7" x2="533.3" y2="988.2" stroke="#262626" stroke-width="2"/>
<text x="533.3" y="1016.0" font-size="28.1" text-anchor="middle">30</text>
<line x1="668.7" y1="977.7" x2="668.7" y2="988.2" stroke="#262626" stroke-width="2"/>
<text x="668.7" y="1016.0" font-size="28.1" text-anchor="middle">40</text>
<line x1="804.0" y1="977.7" x2="804.0" y2="988.2" stroke="#262626" stroke-width="2"/>
<text x="804.0" y="1016.0" font-size="28.1" text-anchor="middle">50</text>
<line x1="939.3" y1="977.7" x2="939.3" y2="988.2" stroke="#262626" stroke-width="2"/>
<text x="939.3" y="1016.0" font-size="28.1" text-anchor="middle">60</text>
<line x1="1074.7" y1="977.7" x2="1074.7" y2="988.2" stroke="#262626" stroke-width="2"/>
<text x="1074.7" y="1016.0" font-size="28.1" text-anchor="middle">70</text>
<line x1="1210.0" y1="977.7" x2="1210.0" y2="988.2" stroke="#262626" stroke-width="2"/>
<text x="1210.0" y="1016.0" font-size="28.1" text-anchor="middle">80</text>
<line x1="1345.4" y1="977.7" x2="1345.4" y2="988.2" stroke="#262626" stroke-width="2"/>
<text x="1345.4" y="1016.0" font-size="28.1" text-anchor="middle">90</text>
<line x1="1480.7" y1="977.7" x2="1480.7" y2="988.2" stroke="#262626" stroke-width="2"/>
<text x="1480.7" y="1016.0" font-size="28.1" text-anchor="middle">100</text>
<line x1="63.4" y1="935.8" x2="73.9" y2="935.8" stroke="#262626" stroke-width="2"/>
<text x="56.9" y="946.2" font-size="28.1" text-anchor="end">2</text>
<line x1="63.4" y1="872.6" x2="73.9" y2="872.6" stroke="#262626" stroke-width="2"/>
<text x="56.9" y="883.0" font-size="28.1" text-anchor="end">4</text>
<line x1="63.4" y1="809.3" x2="73.9" y2="809.3" stroke="#262626" stroke-width="2"/>
<text x="56.9" y="819.7" font-size="28.1" text-anchor="end">6</text>
<text x="810.5" y="1051.4" font-size="30.2" text-anchor="middle">Cascade indices after sorting by the number of subcascades as per DBSCAN</text>
<text x="709.8" y="1084.8" font-size="28.8">(c) 200 keV</text>
<text transform="translate(26.6 865.1) rotate(-90)" font-size="30.35" text-anchor="middle">subcascade count</text>
<rect x="87.7" y="763.4" width="307.5" height="80" rx="16.5" ry="16.5" fill="#ebebeb" stroke="#222" stroke-width="2.2"/>
<line x1="96.1" y1="787.4" x2="144" y2="787.4" stroke="#df636b" stroke-width="3.2"/>
<line x1="96.1" y1="814.2" x2="144" y2="814.2" stroke="#177676" stroke-width="3" stroke-dasharray="11,4.5"/>
<text x="158.6" y="795.9" font-size="28.7">ECs at peak</text>
<text x="158.6" y="826.0" font-size="28.7">DBSCAN at final</text>
</svg></body></html>
